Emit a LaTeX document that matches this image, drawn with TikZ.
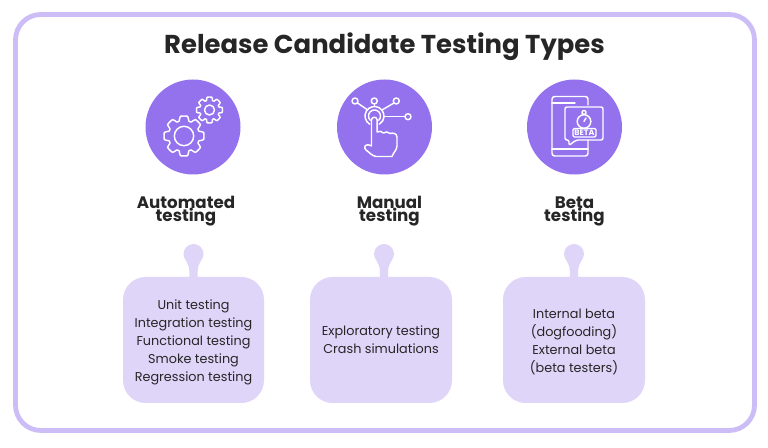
\documentclass[tikz,border=0pt]{standalone}
\usepackage{fontspec}
\setmainfont{Poppins}
\definecolor{rim}{HTML}{CDBDF6}
\definecolor{pale}{HTML}{DFD5F9}
\definecolor{disc}{HTML}{9472EE}
\definecolor{ink}{HTML}{262626}
\tikzset{
  frame/.style={draw=rim,line width=3.6pt,fill=white,rounded corners=19pt},
  disc/.style={circle,fill=disc,minimum size=71.25pt,inner sep=0pt},
  listbox/.style={fill=pale,rounded corners=17pt,inner sep=0pt,minimum height=94.5pt},
  knob/.style={fill=pale},
  icon/.style={draw=white,line width=1.1pt,line join=round,line cap=round},
  heading/.style={font=\fontsize{12.5}{11}\selectfont\bfseries\color{ink},anchor=center,inner sep=0pt},
  items/.style={font=\fontsize{9.6}{13.5}\selectfont\color{ink},align=center,inner sep=0pt},
  declare function={gearr(\t,\ro,\ri,\n)=\ri+(\ro-\ri)*min(1,max(0,abs(mod(\t+720,360/\n)/(360/\n)-0.5)*6-0.6));}
}
\begin{document}
\begin{tikzpicture}[x=0.75pt,y=-0.75pt]
\useasboundingbox (0,0) rectangle (768,448);
\fill[white] (0,0) rectangle (768,448);
\draw[frame] (15.5,14.5) rectangle (754.5,430.5);
\node[font=\fontsize{19.4}{20}\selectfont\bfseries\color{ink}] (title) at (384.5,46.5) {Release Candidate Testing Types};

\node[disc] (d1) at (193,127) {};
\node[disc] (d2) at (384.5,127) {};
\node[disc] (d3) at (574.5,127) {};

% gears
\draw[icon] plot[samples=145,domain=0:360] ({184+gearr(\x,20,15.5,8)*cos(\x)},{136+gearr(\x,20,15.5,8)*sin(\x)}) -- cycle;
\draw[icon] (184,136) circle (9.7);
\draw[icon] plot[samples=145,domain=0:360] ({209.5+gearr(\x,13,9.8,8)*cos(\x)},{110+gearr(\x,13,9.8,8)*sin(\x)}) -- cycle;
\draw[icon] (209.5,110) circle (5);

% hand
\coordinate (tap) at (374.5,116);
\draw[icon] (tap) ++(135:6) arc (135:405:6);
\draw[icon] (tap) ++(120:9.5) arc (120:420:9.5);
\draw[icon] (355,101) circle (3) (374.3,101) circle (3) (396.3,101) circle (3) (408,116.7) circle (3);
\draw[icon] (357.5,103) -- (367,109.5);
\draw[icon] (374.3,104) -- (374.3,106.5);
\draw[icon] (394,103) -- (382,110);
\draw[icon] (405,116.7) -- (384,116.7);
\draw[icon] (371.5,146) -- (371.5,120) arc (180:360:2.8) -- (377.1,132)
  .. controls (379,131) and (382,131) .. (383.5,133) .. controls (385.5,131.5) and (388.5,131.5) .. (390,133.5)
  .. controls (393,132.5) and (397,133.5) .. (397,137) -- (397,146)
  .. controls (397,150) and (393,153) .. (392,156.5) -- (376,156.5)
  .. controls (372,156) and (369,152) .. (366,150) .. controls (363,147.5) and (365,142.5) .. (371.5,146);

% beta
\draw[icon,rounded corners=2pt] (588,105) -- (588,96.5) -- (552,96.5) -- (552,156) -- (588,156) -- (588,140);
\draw[icon] (552,103) -- (575,103) (552,149) -- (588,149);
\draw[icon,rounded corners=1.5pt] (565,107) -- (603,107) -- (603,140) -- (576,140) -- (569,145.5) -- (569,140) -- (565,140) -- cycle;
\draw[icon] (584,121.5) circle (6.8);
\draw[icon] (584,112.5) circle (2);
\draw[icon] (584,121.5) -- (586,118);
\draw[icon,rounded corners=1pt] (573,128.5) rectangle (596,137);
\node[font=\fontsize{6}{6}\selectfont\bfseries,text=white,inner sep=0pt] (betatag) at (584.5,133) {BETA};

% headings
\node[heading] (h1a) at (186,202.5) {Automated};
\node[heading] (h1b) at (186,217) {testing};
\node[heading] (h2a) at (389.5,202.5) {Manual};
\node[heading] (h2b) at (389.5,217) {testing};
\node[heading] (h3a) at (574.5,202.5) {Beta};
\node[heading] (h3b) at (574.5,217) {testing};

% boxes
\node[listbox,minimum width=105.75pt] (b1) at (193.5,340) {};
\node[listbox,minimum width=106.5pt] (b2) at (381,340) {};
\node[listbox,minimum width=106.5pt] (b3) at (574,340) {};
\node[items] (t1) at (193.5,342) {Unit testing\\Integration testing\\Functional testing\\Smoke testing\\Regression testing};
\node[items] (t2) at (381,340) {Exploratory testing\\Crash simulations};
\node[items] (t3) at (574,342) {Internal beta\\(dogfooding)\\External beta\\(beta testers)};

% knobs
\foreach \cx in {193.5,384,574}{
  \fill[knob] (\cx-10,254) arc (180:360:10) .. controls (\cx+10,260) and (\cx+4.2,262) .. (\cx+4.2,271) -- (\cx+4.2,278)
    -- (\cx-4.2,278) -- (\cx-4.2,271) .. controls (\cx-4.2,262) and (\cx-10,260) .. (\cx-10,254) -- cycle;
}
\end{tikzpicture}
\end{document}
